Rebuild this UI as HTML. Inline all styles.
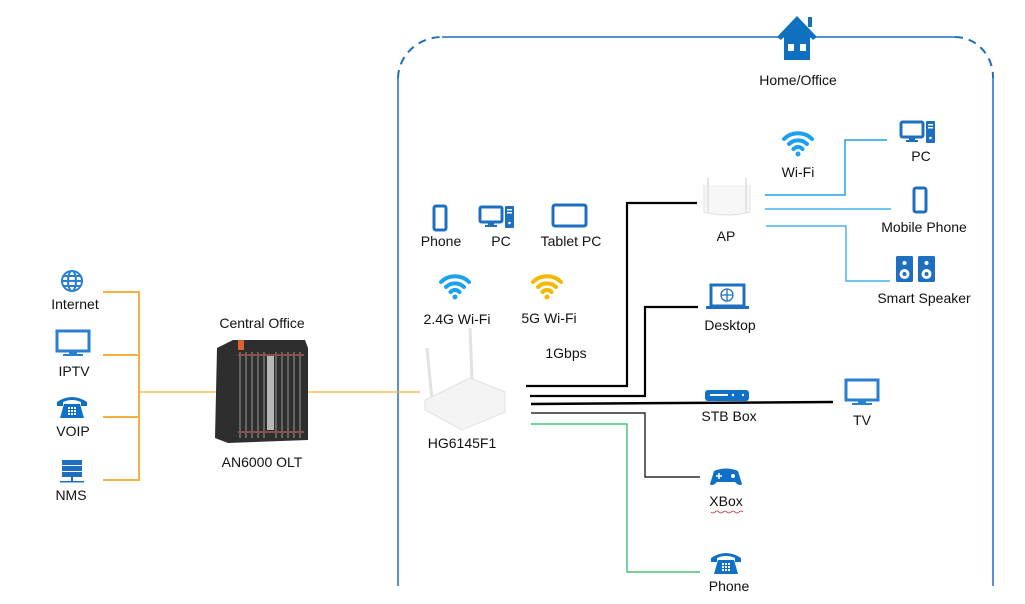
<!DOCTYPE html>
<html><head><meta charset="utf-8"><style>
html,body{margin:0;padding:0;background:#fff;}
svg{display:block;}
text{font-family:"Liberation Sans",sans-serif;font-size:14px;fill:#111;text-anchor:middle;}
</style></head><body>
<svg width="1025" height="604" viewBox="0 0 1025 604" xmlns="http://www.w3.org/2000/svg">
<defs>
<g id="wifi"><path d="M-14,-4 A20,20 0 0 1 14,-4" fill="none" stroke-width="4" stroke-linecap="round"/><path d="M-9,1 A13,13 0 0 1 9,1" fill="none" stroke-width="4" stroke-linecap="round"/><path d="M-4.5,6 A6,6 0 0 1 4.5,6" fill="none" stroke-width="4" stroke-linecap="round"/><circle cx="0" cy="11" r="2.5" stroke="none"/></g>
<g id="pc"><rect x="-17" y="-10" width="22" height="15" rx="1.5" fill="none" stroke="#1f6fc0" stroke-width="3"/><rect x="-9" y="5" width="6" height="3" fill="#1f6fc0"/><rect x="-12" y="8" width="12" height="2" fill="#1f6fc0"/><rect x="8" y="-11" width="9" height="22" rx="1" fill="#1f6fc0"/><rect x="10" y="-8" width="5" height="1.5" fill="#fff"/><rect x="10" y="-5" width="5" height="1.5" fill="#fff"/><circle cx="12.5" cy="6" r="1.3" fill="#fff"/></g>
<g id="phone"><rect x="-6" y="-12" width="12" height="24" rx="2" fill="none" stroke="#1f6fc0" stroke-width="3"/></g>
<g id="tel"><path d="M-15,-4 Q0,-14 15,-4 L15,0 L9,0 L9,-4 Q0,-8 -9,-4 L-9,0 L-15,0Z" fill="#1070c8"/><path d="M-8,-2 L8,-2 L12,12 L-12,12Z" fill="#1070c8"/><g fill="#fff"><rect x="-4" y="1" width="2" height="2"/><rect x="-1" y="1" width="2" height="2"/><rect x="2" y="1" width="2" height="2"/><rect x="-4" y="4" width="2" height="2"/><rect x="-1" y="4" width="2" height="2"/><rect x="2" y="4" width="2" height="2"/><rect x="-4" y="7" width="2" height="2"/><rect x="-1" y="7" width="2" height="2"/><rect x="2" y="7" width="2" height="2"/></g></g>
<g id="tv"><rect x="-16" y="-11" width="32" height="20" fill="none" stroke="#2a7fd0" stroke-width="3"/><rect x="-4" y="9" width="8" height="3" fill="#2a7fd0"/><rect x="-10" y="12" width="20" height="2" fill="#2a7fd0"/></g>
</defs>

<!-- frame -->
<path d="M398,586 L398,78" stroke="#1f6fc0" stroke-width="1.5" fill="none"/>
<path d="M398,78 A44,42 0 0 1 442,37" stroke="#1f6fc0" stroke-width="2" fill="none" stroke-dasharray="8,6"/>
<path d="M442,37 L955,37" stroke="#1f6fc0" stroke-width="1.5"/>
<path d="M955,37 A38,40 0 0 1 993,78" stroke="#1f6fc0" stroke-width="2" fill="none" stroke-dasharray="8,6"/>
<path d="M993,78 L993,586" stroke="#1f6fc0" stroke-width="1.5"/>
<!-- house -->
<g fill="#1070c0"><path d="M777,37 L797,16 L817,37 L813,40 L797,23 L781,40Z"/><rect x="808" y="17" width="4" height="10"/><path d="M784,36 L797,23 L810,36 L810,60 L784,60Z"/></g>
<rect x="788" y="44" width="6" height="7" fill="#fff"/><rect x="800" y="44" width="6" height="7" fill="#fff"/>
<text x="798" y="85">Home/Office</text>

<!-- left side -->
<g stroke="#f5b041" stroke-width="2" fill="none"><path d="M103,292 H139 V480 H103 M103,355 H139 M103,417 H139"/></g>
<path d="M139,392 H420" stroke="#f5b041" stroke-width="1.2"/>
<g stroke="#2a7fd0" stroke-width="2" fill="none"><circle cx="72" cy="281" r="10"/><ellipse cx="72" cy="281" rx="4" ry="10"/><path d="M62,281 H82 M64,276 H80 M64,286 H80"/></g>
<text x="75" y="309">Internet</text>
<use href="#tv" x="73" y="342"/>
<text x="74" y="376">IPTV</text>
<use href="#tel" x="72" y="406"/>
<text x="73" y="436">VOIP</text>
<g fill="#1f6fc0"><rect x="62" y="460" width="20" height="5"/><rect x="62" y="466" width="20" height="5"/><rect x="62" y="472" width="20" height="5"/><rect x="71" y="477" width="2" height="4"/><rect x="60" y="481" width="24" height="1.5"/></g>
<text x="71" y="500">NMS</text>

<!-- OLT -->
<text x="262" y="328">Central Office</text>
<path d="M217,348 L233,340 L305,340 L308,348 L308,440 L228,443 L215,438Z" fill="#2e2e2e"/>
<rect x="238" y="340" width="6" height="10" fill="#e06030"/>
<g stroke="#777" stroke-width="1.5"><path d="M240,352 V438 M246,352 V438 M252,352 V438 M258,352 V438 M264,352 V438 M276,352 V438 M282,352 V438 M288,352 V438 M294,352 V438 M300,352 V438"/></g>
<rect x="267" y="355" width="7" height="75" fill="#b8b8b8"/>
<g stroke="#8a5050" stroke-width="2"><path d="M238,355 H304 M238,432 H304"/></g>
<text x="262" y="467">AN6000 OLT</text>

<!-- router -->
<g fill="none" stroke="#e2e2e2" stroke-width="3"><path d="M427,348 L432,400 M470,328 L472,380"/></g>
<path d="M425,400 L470,378 L505,392 L505,412 L462,430 L425,410Z" fill="#f4f4f4" stroke="#e0e0e0"/>
<text x="462" y="448">HG6145F1</text>

<!-- top icons -->
<use href="#phone" x="440" y="218"/>
<text x="441" y="246">Phone</text>
<use href="#pc" x="497" y="217"/>
<text x="501" y="246">PC</text>
<rect x="553" y="205" width="33" height="21" rx="2" fill="none" stroke="#1f6fc0" stroke-width="3"/>
<text x="571" y="246">Tablet PC</text>
<use href="#wifi" x="455" y="286" fill="#1ea0f0" stroke="#1ea0f0"/>
<text x="457" y="324">2.4G Wi-Fi</text>
<use href="#wifi" x="547" y="286" fill="#f5b800" stroke="#f5b800"/>
<text x="549" y="323">5G Wi-Fi</text>
<text x="566" y="358">1Gbps</text>

<!-- black links -->
<g fill="none" stroke="#000"><path d="M526,386 H627 V203 H697" stroke-width="2.2"/><path d="M530,396 H645 V307 H698" stroke-width="2.2"/><path d="M531,404 L833,402" stroke-width="2.5"/><path d="M531,413 H645 V477 H700" stroke-width="1.2"/></g>
<path d="M531,424 H627 V572 H700" fill="none" stroke="#1db954" stroke-width="1.2"/>

<!-- AP -->
<path d="M704,185 V212 Q727,218 750,212 V185" fill="#f7f7f7" stroke="#e0e0e0"/>
<path d="M708,178 V212 M746,178 V212" stroke="#e4e4e4" stroke-width="2"/>
<text x="726" y="241">AP</text>
<use href="#wifi" x="798" y="143" fill="#1ea0f0" stroke="#1ea0f0"/>
<text x="798" y="177">Wi-Fi</text>
<g fill="none" stroke="#1aa3e8"><path d="M765,195 H845 V140 H887" stroke-width="1.5"/><path d="M765,209 H891" stroke-width="1.2"/><path d="M766,226 H846 V281 H890" stroke-width="1.2"/></g>
<use href="#pc" x="918" y="132"/>
<text x="921" y="161">PC</text>
<use href="#phone" x="920" y="200"/>
<text x="924" y="232">Mobile Phone</text>
<g fill="#1f6fc0"><rect x="896" y="256" width="17" height="26" rx="1.5"/><rect x="918" y="256" width="17" height="26" rx="1.5"/></g>
<g fill="#fff"><circle cx="904.5" cy="263" r="2"/><circle cx="926.5" cy="263" r="2"/><circle cx="904.5" cy="274" r="5"/><circle cx="926.5" cy="274" r="5"/></g>
<circle cx="904.5" cy="274" r="2" fill="#1f6fc0"/><circle cx="926.5" cy="274" r="2" fill="#1f6fc0"/>
<text x="924" y="303">Smart Speaker</text>

<!-- desktop -->
<rect x="711" y="285" width="33" height="21" fill="none" stroke="#1f6fc0" stroke-width="3"/>
<rect x="706" y="306" width="43" height="3" fill="#1f6fc0"/>
<g stroke="#1f6fc0" stroke-width="1.3" fill="none"><circle cx="727" cy="295" r="6"/><path d="M721,295 H733 M727,289 V301"/></g>
<text x="730" y="330">Desktop</text>
<rect x="705" y="390" width="44" height="11" rx="3" fill="#1070c8"/>
<rect x="710" y="394" width="18" height="2" fill="#fff"/><circle cx="733" cy="395" r="1.2" fill="#fff"/><circle cx="743" cy="395" r="1.2" fill="#fff"/>
<text x="729" y="421">STB Box</text>
<use href="#tv" x="862" y="391"/>
<text x="862" y="425">TV</text>
<path d="M714,471 Q726,466 738,471 L742,484 Q740,487 735,482 L717,482 Q712,487 710,484Z" fill="#1070c8"/>
<circle cx="733" cy="476" r="2" fill="#fff"/><path d="M716,476 H722 M719,473 V479" stroke="#fff" stroke-width="1.5"/>
<text x="726" y="506">XBox</text>
<path d="M711,512 q2,2 4,0 t4,0 t4,0 t4,0 t4,0 t4,0 t4,0 t4,0" stroke="#d02020" stroke-width="0.8" fill="none"/>
<use href="#tel" x="726" y="562"/>
<text x="729" y="591">Phone</text>
</svg>
</body></html>
